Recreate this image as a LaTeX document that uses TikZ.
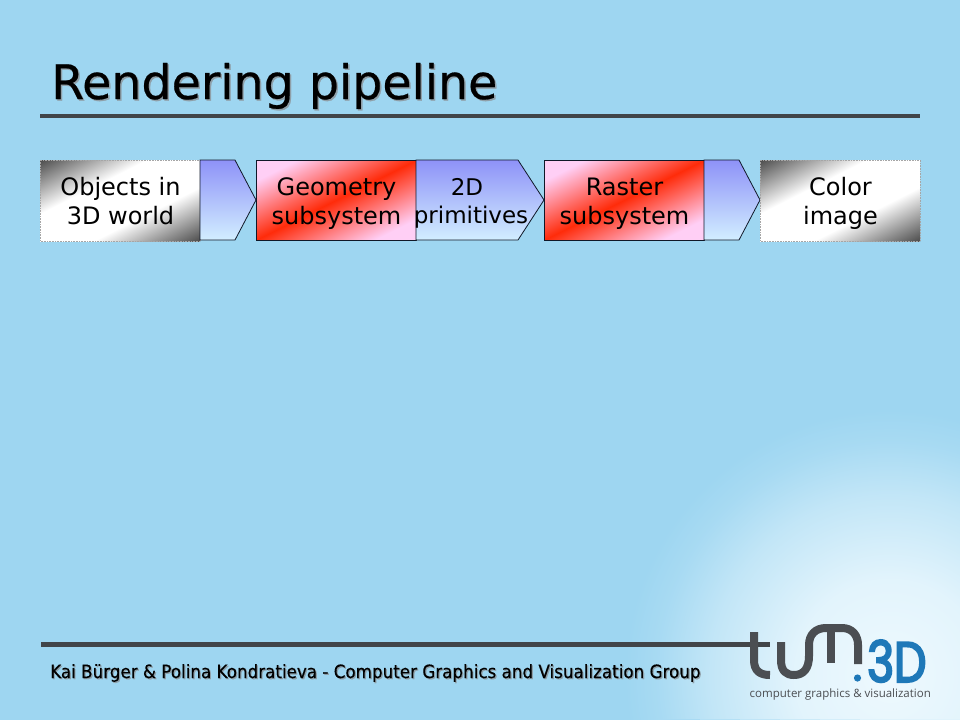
\documentclass[tikz,border=0pt]{standalone}
\usepackage{fontspec}
\setmainfont{DejaVu Sans}
\newfontfamily\titlefont[FakeBold=0.5]{DejaVu Sans}
\newfontfamily\footfont[FakeStretch=0.915,FakeBold=0.25]{DejaVu Sans}
\newfontfamily\capfont{Open Sans}
\newfontfamily\logofont[FakeStretch=0.8,FakeBold=3.5]{Poppins}
\definecolor{bgblue}{HTML}{9ED6F1}
\definecolor{barcol}{HTML}{414549}
\definecolor{logogray}{HTML}{4B4E52}
\definecolor{logoblue}{HTML}{1E78B8}
\definecolor{arrowtop}{HTML}{8E92F8}
\definecolor{arrowbot}{HTML}{D2EEFF}
\definecolor{edgecol}{HTML}{101828}
\definecolor{glowmid}{HTML}{EEF9FE}
\definecolor{shadowcol}{HTML}{8F9FA8}
\pgfdeclareradialshading{glow}{\pgfpoint{0bp}{0bp}}{%
  color(0bp)=(glowmid); color(9bp)=(glowmid!85!bgblue); color(17bp)=(glowmid!45!bgblue);
  color(22bp)=(glowmid!12!bgblue); color(25bp)=(bgblue); color(100bp)=(bgblue)}
% Band along the rectangle's rising diagonal, fading to both other corners
\pgfdeclarefunctionalshading{diagpink}{\pgfpoint{-50bp}{-50bp}}{\pgfpoint{50bp}{50bp}}{}{%
  sub 50 div abs 1.35 mul dup 1 gt {pop 1} if dup 0.64 mul 0.17 add exch 0.92 mul 0.04 add 1 3 1 roll}
\pgfdeclarefunctionalshading{diaggray}{\pgfpoint{-50bp}{-50bp}}{\pgfpoint{50bp}{50bp}}{}{%
  sub 50 div abs 1 exch sub 1.05 mul 0.3 add dup 1 gt {pop 1} if dup dup}
\tikzset{
  x=1pt,y=-1pt,
  boxtext/.style={align=center,font=\fontsize{24}{29}\selectfont,text=black,inner sep=0pt},
  primtext/.style={align=center,font=\fontsize{23}{28}\selectfont,text=black,inner sep=0pt},
  pinkbox/.style={shading=diagpink,draw=edgecol,line width=0.9pt},
  graybox/.style={shading=diaggray,draw=gray!70,densely dotted,line width=0.6pt},
  arrowbox/.style={top color=arrowtop,bottom color=arrowbot,draw=edgecol,line width=0.8pt},
  rulebar/.style={fill=barcol},
  logostroke/.style={draw=logogray,line width=8pt,line cap=butt,line join=round},
  titletext/.style={font=\titlefont\fontsize{47.5}{50}\selectfont,anchor=base west,inner sep=0pt},
  foottext/.style={font=\footfont\fontsize{18.3}{20}\selectfont,anchor=base west,inner sep=0pt},
  captext/.style={font=\capfont\fontsize{11.5}{14}\selectfont,anchor=base east,inner sep=0pt},
}
\begin{document}
\begin{tikzpicture}
\useasboundingbox (0,0) rectangle (960,720);
\fill[bgblue] (0,0) rectangle (960,720);
\begin{scope}
  \clip (0,0) rectangle (960,719);
  \shade[shading=glow] (625,410) rectangle (1155,940);
\end{scope}
% last pixel row of the glow, in steps
\foreach \xa/\xb/\mixa in {660/700/12,700/740/28,740/780/42,780/820/56,820/860/68,860/960/82}
  \fill[glowmid!\mixa!bgblue] (\xa,719) rectangle (\xb,720);
% title
\node[titletext,text=shadowcol] (titleshadow) at (52.5,100.5) {Rendering pipeline};
\node[titletext,text=black] (title) at (51,99) {Rendering pipeline};
\fill[rulebar] (40,114) rectangle (920,118);
% pipeline shapes
\shade[graybox] (40,160) rectangle (200,241);
\draw[arrowbox] (200,160) -- (235,160) -- (256,200) -- (235,240) -- (200,240) -- cycle;
\shade[pinkbox] (256,160) rectangle (416,240);
\draw[arrowbox] (416,160) -- (518,160) -- (544,200) -- (518,240) -- (416,240) -- cycle;
\shade[pinkbox] (544,160) rectangle (704,240);
\draw[arrowbox] (704,160) -- (739,160) -- (760,200) -- (739,240) -- (704,240) -- cycle;
\shade[graybox] (760,160) rectangle (920,241);
% pipeline labels
\node[boxtext] (objects) at (120.5,201) {Objects in\\3D world};
\node[boxtext] (geometry) at (336.5,204) {Geometry\\subsystem};
\node[primtext] (prims) at (471,203) {\hspace*{-8pt}2D\\primitives};
\node[boxtext] (raster) at (624.5,204) {Raster\\subsystem};
\node[boxtext] (color) at (840.5,203) {Color\\image};
% footer
\fill[rulebar] (41,641.5) rectangle (770,646.5);
\node[foottext,text=shadowcol] (footshadow) at (51.2,679.2) {Kai Bürger \& Polina Kondratieva - Computer Graphics and Visualization Group};
\node[foottext,text=black] (foot) at (50,678) {Kai Bürger \& Polina Kondratieva - Computer Graphics and Visualization Group};
% logo
\draw[logostroke] (754,632) -- (754,660) .. controls (754,671) and (760,675) .. (770,675);
\draw[logostroke] (781,642) -- (781,660) .. controls (781,671) and (786,675) .. (794,675)
  .. controls (804,675) and (809,668) .. (809,656) -- (809,645)
  .. controls (809,634) and (816,628) .. (826,628) -- (842,628)
  .. controls (852,628) and (858,635) .. (858,645) -- (858,664);
\draw[logostroke] (831,628) -- (831,663);
\node[font=\logofont\fontsize{57}{57}\selectfont,text=logoblue,anchor=base west,inner sep=0pt,text depth=0pt] (threed) at (867,682) {3D};
\fill[logoblue] (857.5,678) circle[radius=3.6];
\node[captext,text=logogray] (caption) at (931,697) {computer graphics \& visualization};
\end{tikzpicture}
\end{document}
